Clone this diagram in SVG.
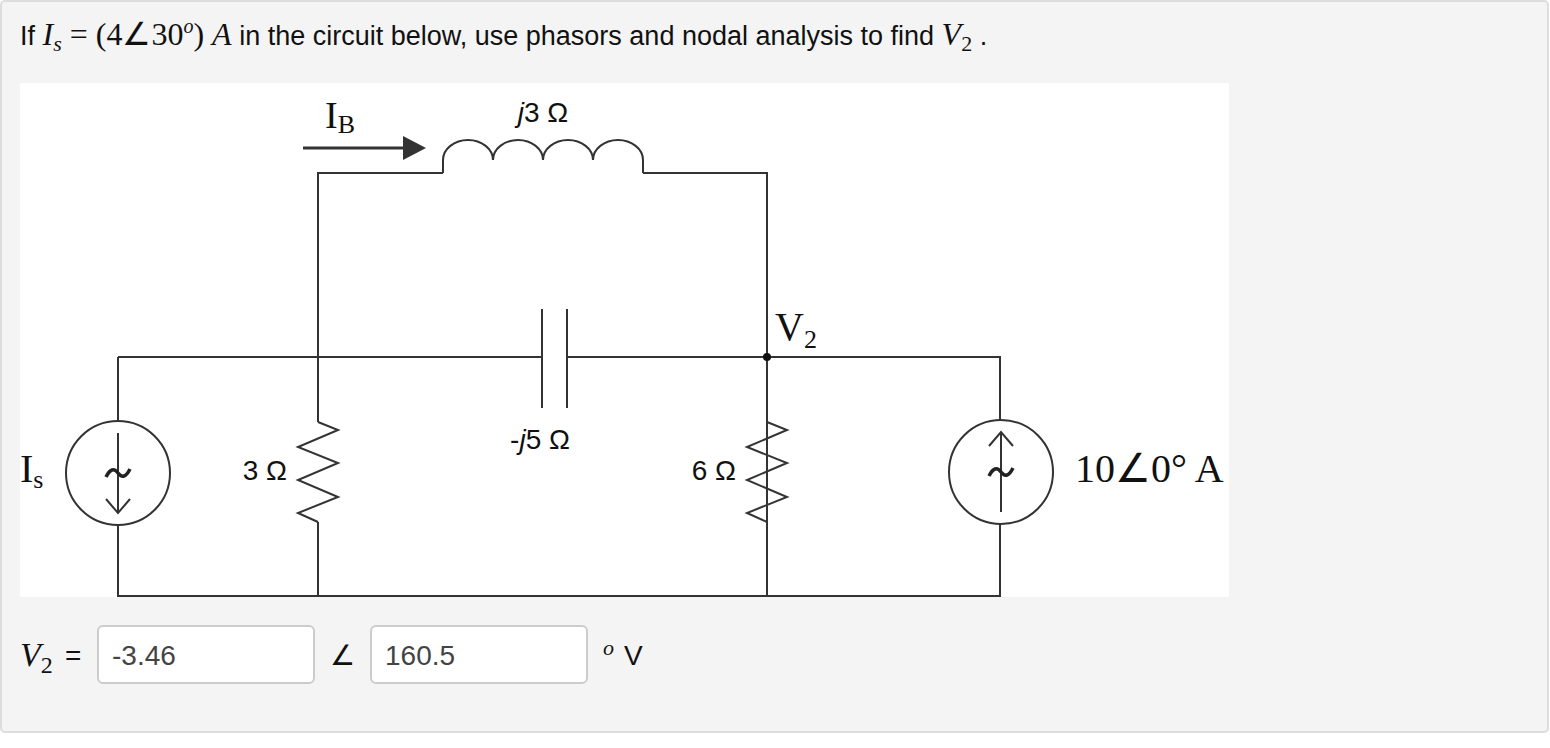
<svg xmlns="http://www.w3.org/2000/svg" width="1550" height="748" viewBox="0 0 1550 748">
<style>
.w{fill:none;stroke:#333;stroke-width:2}
.s{font-family:"Liberation Sans",Arial,sans-serif}
.t{font-family:"Liberation Serif","Times New Roman",serif}
.box{fill:#fff;stroke:#ccc;stroke-width:2}
</style>
<rect x="0" y="0" width="1550" height="748" fill="#fff"/>
<rect x="1" y="1" width="1547" height="731" rx="4" fill="#f4f4f4" stroke="#ddd" stroke-width="2"/>
<text x="20" y="45" class="s" font-size="27" fill="#111">If <tspan class="t" font-style="italic" font-size="32">I</tspan><tspan class="t" font-style="italic" font-size="22" dy="6">s</tspan><tspan class="t" font-size="32" dy="-6"> = (4∠30</tspan><tspan class="t" font-style="italic" font-size="20" dy="-12">o</tspan><tspan class="t" font-size="32" dy="12">) </tspan><tspan class="t" font-style="italic" font-size="32">A</tspan> in the circuit below, use phasors and nodal analysis to find <tspan class="t" font-style="italic" font-size="32">V</tspan><tspan class="t" font-size="22" dy="6">2</tspan><tspan dy="-6"> .</tspan></text>
<rect x="20" y="83" width="1209" height="514" fill="#fff"/>
<g id="connectors" class="w">
<path d="M318 596V522M318 422V173H443M643 173H767V596M118 357H542M567 357H1000V420M118 357V421M118 525V596H1000V524"/>
</g>
<g id="IB">
<line x1="303" y1="148" x2="408" y2="148" stroke="#333" stroke-width="3"/>
<polygon points="403,136 426,148 403,160" fill="#333"/>
<text x="325" y="128" class="t" font-size="38" fill="#111">I<tspan font-size="26" dy="5">B</tspan></text>
</g>
<g id="L">
<path class="w" d="M443 173V160A25 20 0 0 1 493 160A25 20 0 0 1 543 160A25 20 0 0 1 593 160A25 20 0 0 1 643 160V173"/>
<text x="543" y="122" class="s" font-size="28" text-anchor="middle" fill="#111"><tspan font-style="italic">j</tspan>3 Ω</text>
</g>
<g id="C">
<path class="w" d="M542 309V408M567 309V408"/>
<text x="540" y="449" class="s" font-size="28" text-anchor="middle" fill="#111">-<tspan font-style="italic">j</tspan>5 Ω</text>
</g>
<g id="R3">
<path class="w" d="M318 422L338 430L298 447L338 463L298 480L338 497L298 513L318 522"/>
<text x="287" y="480" class="s" font-size="28" text-anchor="end" fill="#111">3 Ω</text>
</g>
<g id="R6">
<path class="w" d="M767 422L787 430L747 447L787 463L747 480L787 497L747 513L767 522"/>
<text x="736" y="480" class="s" font-size="28" text-anchor="end" fill="#111">6 Ω</text>
</g>
<g id="V2node">
<circle cx="767" cy="357" r="4" fill="#111"/>
<text x="775" y="340" class="t" font-size="40" fill="#111">V<tspan font-size="26" dy="8">2</tspan></text>
</g>
<g id="Is">
<circle class="w" cx="118" cy="473" r="52"/>
<path class="w" d="M118 433V513M106 499L118 513L130 499"/>
<path d="M106 477Q112 465 118 473Q124 481 130 469" fill="none" stroke="#222" stroke-width="3.5"/>
<text x="20" y="482" class="t" font-size="40" fill="#111">I<tspan font-size="26" dy="6">s</tspan></text>
</g>
<g id="Isrc2">
<circle class="w" cx="1001" cy="472" r="52"/>
<path class="w" d="M1001 512V432M989 446L1001 432L1013 446"/>
<path d="M989 476Q995 464 1001 472Q1007 480 1013 468" fill="none" stroke="#222" stroke-width="3.5"/>
<text x="1075" y="482" class="t" font-size="40" fill="#111">10∠0° A</text>
</g>
<g id="answer">
<text x="20" y="666" class="t" font-size="34" font-style="italic" fill="#111">V<tspan font-style="normal" font-size="24" dy="7">2</tspan></text>
<text x="65" y="665" class="s" font-size="28" fill="#111">=</text>
<rect class="box" x="98" y="626" width="216" height="57" rx="5"/>
<text x="112" y="665" class="s" font-size="28" fill="#444">-3.46</text>
<text x="342" y="665" class="s" font-size="28" text-anchor="middle" fill="#111">∠</text>
<rect class="box" x="371" y="626" width="216" height="57" rx="5"/>
<text x="385" y="665" class="s" font-size="28" fill="#444">160.5</text>
<text x="603" y="655" class="t" font-size="22" font-style="italic" fill="#111">o</text>
<text x="624" y="665" class="s" font-size="28" fill="#111">V</text>
</g>
</svg>
